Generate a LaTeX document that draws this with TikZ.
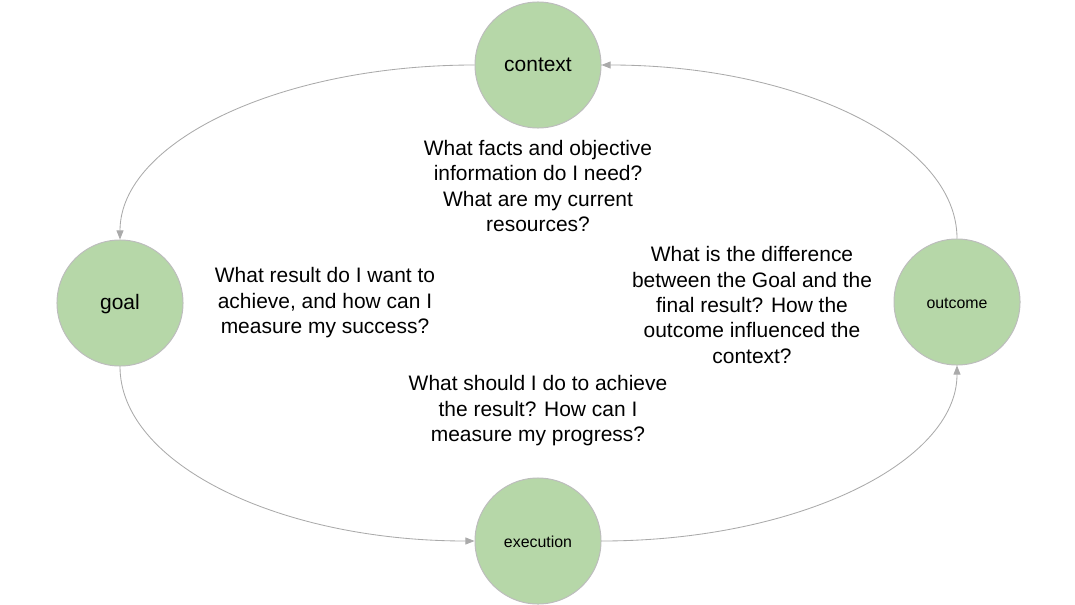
\documentclass[tikz,border=0pt]{standalone}
\usepackage{fontspec}
\setmainfont{Liberation Sans}
\usetikzlibrary{arrows.meta}
\definecolor{stagefill}{HTML}{B6D7A8}
\definecolor{stageline}{HTML}{BDBDBD}
\definecolor{flowline}{HTML}{AAAAAA}
\begin{document}
\begin{tikzpicture}[x=0.025cm, y=-0.025cm]
        \tikzstyle{stage}=[circle, draw=stageline, fill=stagefill, line width=0.7pt, inner sep=0pt, minimum width=3.15cm, text height=1.75ex, text depth=0pt, font=\fontsize{14.9}{18}\selectfont]
        \tikzstyle{small}=[font=\fontsize{11.3}{14}\selectfont]
        \tikzstyle{question}=[align=center, inner sep=0pt, font=\fontsize{14.9}{18.1}\selectfont]
        \tikzstyle{flow}=[draw=flowline, line width=0.6pt, -{Triangle[length=6.5pt, width=5pt]}]

        \useasboundingbox (0,0) rectangle (1075,604);

        \node[stage] (context) at (538,65) {context};
        \node[stage] (goal) at (120,303) {goal};
        \node[stage, small] (outcome) at (957,302) {outcome};
        \node[stage, small] (execution) at (538,541) {execution};

        \draw[flow] (context.west) .. controls +(-196,0) and +(0,-97) .. (goal.north);
        \draw[flow] (goal.south) .. controls +(0,97) and +(-196,0) .. (execution.west);
        \draw[flow] (execution.east) .. controls +(196,0) and +(0,97) .. (outcome.south);
        \draw[flow] (outcome.north) .. controls +(0,-97) and +(196,0) .. (context.east);

        \node[question] (facts) at (538,186) {What facts and objective\\information do I need?\\What are my current\\resources?};
        \node[question] (result) at (325,303) {What result do I want to\\achieve, and how can I\\measure my success?};
        \node[question] (diff) at (752,305) {What is the difference\\between the Goal and the\\final result? How the\\outcome influenced the\\context?};
        \node[question] (todo) at (538,411) {What should I do to achieve\\the result? How can I\\measure my progress?};
    \end{tikzpicture}
\end{document}
